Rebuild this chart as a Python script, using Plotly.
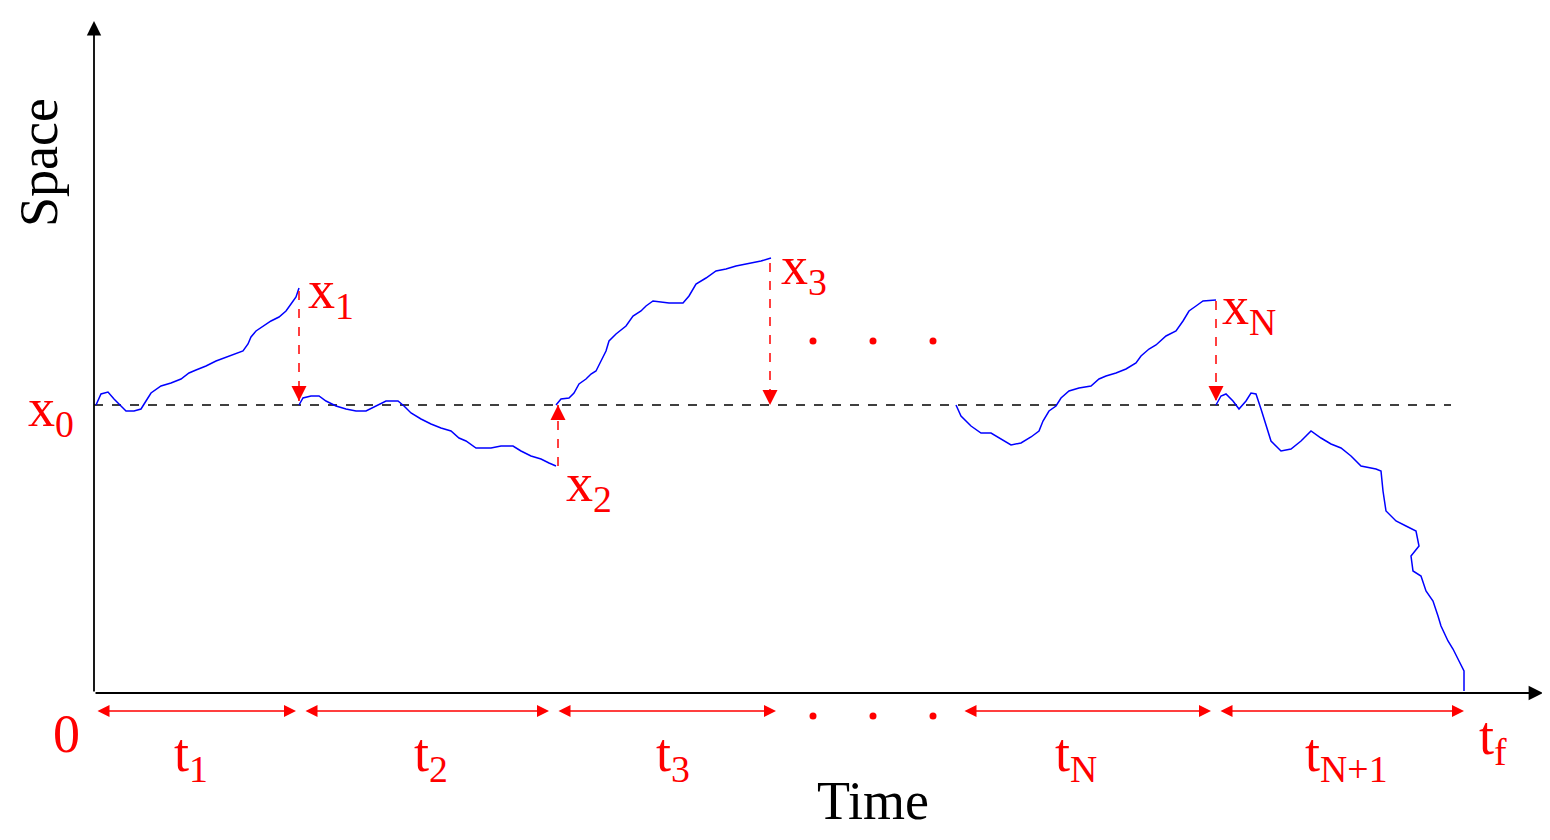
import plotly.graph_objects as go

# diagram coordinates (x to the right, y downwards like the picture)
baseline_y = 404
walk_1 = [(95,404),(100,393),(107,391),(113,398),(120,405),(125,410),(133,410),(140,408),(145,400),(150,392),(160,385),(170,382),(180,378),(188,372),(195,369),(205,365),(215,360),(225,356),(235,352),(242,350),(247,343),(250,336),(255,330),(262,325),(270,320),(278,316),(285,310),(290,303),(295,296),(298,287)]
walk_2 = [(298,404),(302,397),(310,395),(318,395),(325,400),(335,405),(345,408),(355,410),(365,410),(375,405),(385,400),(397,400),(403,405),(410,412),(420,418),(430,423),(440,427),(450,430),(458,437),(465,440),(475,447),(490,447),(500,445),(512,445),(520,450),(530,455),(540,458),(548,462),(555,465)]
walk_3 = [(555,404),(560,398),(568,397),(573,392),(578,383),(585,378),(590,373),(595,370),(600,360),(605,350),(608,340),(615,333),(625,325),(632,315),(640,310),(645,305),(652,300),(668,302),(682,302),(688,295),(695,283),(705,277),(715,270),(725,268),(735,265),(745,263),(760,260),(770,257)]
walk_4 = [(955,404),(960,415),(970,425),(980,432),(990,432),(1000,438),(1010,444),(1020,442),(1030,436),(1038,430),(1042,420),(1048,410),(1055,405),(1060,397),(1068,390),(1078,387),(1090,385),(1098,378),(1105,375),(1115,372),(1125,368),(1135,362),(1140,355),(1148,348),(1155,344),(1165,335),(1175,330),(1182,320),(1188,310),(1195,305),(1202,300),(1215,299)]
walk_5 = [(1215,404),(1220,395),(1225,393),(1232,400),(1238,408),(1245,400),(1250,392),(1255,393),(1260,408),(1265,425),(1270,440),(1280,450),(1290,448),(1300,440),(1310,430),(1320,437),(1330,443),(1340,447),(1350,455),(1360,465),(1375,468),(1380,470),(1382,490),(1385,510),(1395,520),(1405,525),(1415,530),(1418,545),(1410,555),(1412,570),(1420,575),(1425,590),(1432,600),(1437,615),(1440,625),(1447,640),(1452,648),(1458,660),(1463,670),(1463,690)]

# reset jumps: (x, from_y, to_y)
jumps = [(298,290,400),(557,465,404),(769,262,404),(1215,300,400)]
# waiting time intervals
intervals = [(95,295),(303,548),(556,775),(962,1210),(1218,1463)]
interval_labels = ["t<sub>1</sub>","t<sub>2</sub>","t<sub>3</sub>","t<sub>N</sub>","t<sub>N+1</sub>"]
interval_label_x = [190,430,672,1075,1345]
dot_x = [812,872,932]

point_labels = [("x<sub>0</sub>",50,410),("x<sub>1</sub>",330,292),("x<sub>2</sub>",588,485),
                ("x<sub>3</sub>",803,268),("x<sub>N</sub>",1248,308)]

RED = "#ff0000"
BLUE = "#0000ff"
FONT = "Liberation Serif"

fig = go.Figure()

fig.add_trace(go.Scatter(x=[93,1450], y=[baseline_y,baseline_y], mode="lines",
                         line=dict(color="black", width=1.5, dash="dash")))
for w in [walk_1, walk_2, walk_3, walk_4, walk_5]:
    fig.add_trace(go.Scatter(x=[p[0] for p in w], y=[p[1] for p in w], mode="lines",
                             line=dict(color=BLUE, width=1.5)))
for jx, y0, y1 in jumps:
    fig.add_trace(go.Scatter(x=[jx,jx], y=[y0,y1], mode="lines",
                             line=dict(color=RED, width=1.5, dash="dash")))
    fig.add_annotation(x=jx, y=y1, ax=jx, ay=y1 - (8 if y1 > y0 else -8),
                       xref="x", yref="y", axref="x", ayref="y", text="",
                       showarrow=True, arrowhead=2, arrowsize=2, arrowwidth=1.5, arrowcolor=RED)

fig.add_trace(go.Scatter(x=dot_x, y=[340]*3, mode="markers", marker=dict(color=RED, size=7)))
fig.add_trace(go.Scatter(x=dot_x, y=[715]*3, mode="markers", marker=dict(color=RED, size=7)))

for (a, b), lab, lx in zip(intervals, interval_labels, interval_label_x):
    fig.add_annotation(x=b, y=710, ax=a, ay=710, xref="x", yref="y", axref="x", ayref="y",
                       text="", showarrow=True, arrowhead=2, startarrowhead=2, arrowside="end+start",
                       arrowsize=1.6, startarrowsize=1.6, arrowwidth=1.5, arrowcolor=RED)
    fig.add_annotation(x=lx, y=755, text=lab, showarrow=False, font=dict(family=FONT, size=54, color=RED))

for lab, lx, ly in point_labels:
    fig.add_annotation(x=lx, y=ly, text=lab, showarrow=False, font=dict(family=FONT, size=54, color=RED))

fig.add_annotation(x=65, y=733, text="0", showarrow=False, font=dict(family=FONT, size=54, color=RED))
fig.add_annotation(x=1492, y=738, text="t<sub>f</sub>", showarrow=False, font=dict(family=FONT, size=54, color=RED))
fig.add_annotation(x=872, y=800, text="Time", showarrow=False, font=dict(family=FONT, size=54, color="black"))
fig.add_annotation(x=38, y=162, text="Space", showarrow=False, textangle=-90,
                   font=dict(family=FONT, size=54, color="black"))

# axes arrows
fig.add_annotation(x=1542, y=692, ax=93, ay=692, xref="x", yref="y", axref="x", ayref="y", text="",
                   showarrow=True, arrowhead=2, arrowsize=1.6, arrowwidth=1.8, arrowcolor="black")
fig.add_annotation(x=93, y=20, ax=93, ay=692, xref="x", yref="y", axref="x", ayref="y", text="",
                   showarrow=True, arrowhead=2, arrowsize=1.6, arrowwidth=1.8, arrowcolor="black")

# page body adds ~7px offset, so shift the ranges to compensate
fig.update_layout(width=1550, height=840, margin=dict(l=0, r=0, t=0, b=0),
                  plot_bgcolor="white", paper_bgcolor="white", showlegend=False,
                  xaxis=dict(range=[7,1557], visible=False),
                  yaxis=dict(range=[847,7], visible=False))

fig.write_html("out.html")
